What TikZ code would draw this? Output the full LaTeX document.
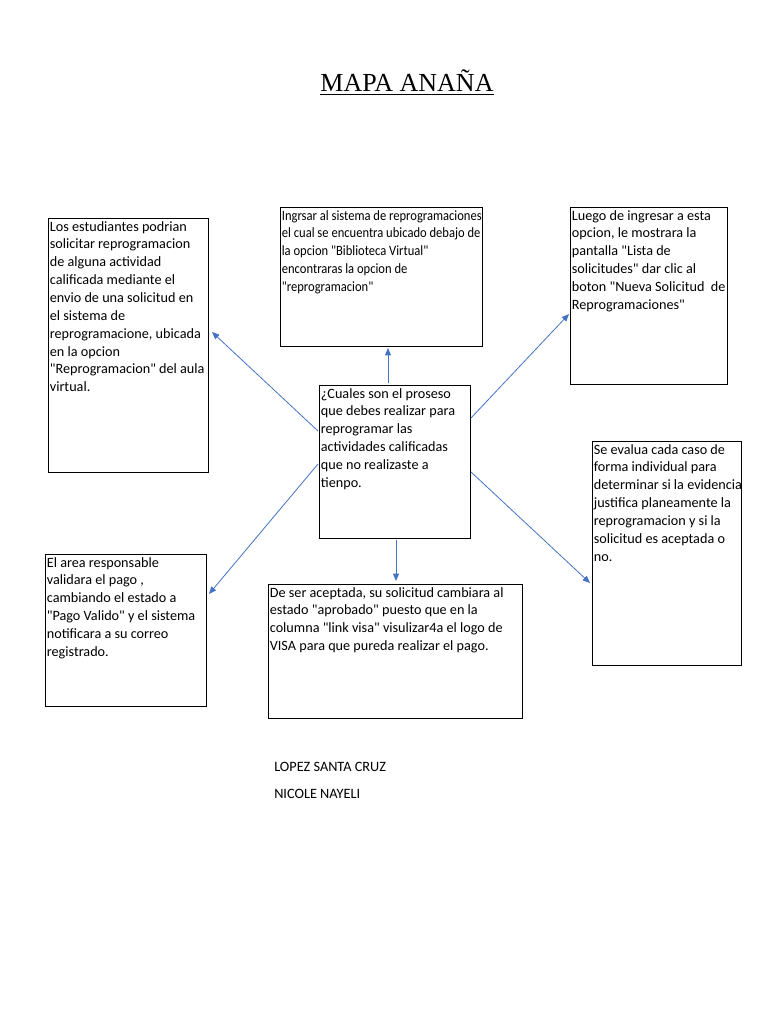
\documentclass[tikz,border=0pt]{standalone}
\usepackage{fontspec}
\usepackage{graphicx}
\newfontfamily\calib{Carlito}
\newfontfamily\tnr{Liberation Serif}
\usetikzlibrary{arrows.meta}
\definecolor{arrowblue}{HTML}{4472C4}
\newcommand\bxt[3]{\parbox[c][#2][t]{#1}{\begin{tabular}[t]{@{}l@{}}#3\end{tabular}}}
\newcommand\bxtn[3]{\parbox[c][#2][t]{#1}{\scalebox{0.885}[1]{\begin{tabular}[t]{@{}l@{}}#3\end{tabular}}}}
\tikzset{
  box/.style={draw, line width=0.8pt, anchor=north west, inner xsep=1pt, inner ysep=0pt,
    font=\calib\fontsize{10.65pt}{13.4pt}\selectfont},
  conn/.style={draw=arrowblue, line width=0.6pt, -{Triangle[length=5.5pt,width=4.5pt]}},
  plain/.style={font=\calib\fontsize{10.7pt}{13.4pt}\selectfont, anchor=base west, inner sep=0pt}
}
\begin{document}
\begin{tikzpicture}[x=0.75pt,y=-0.75pt]
\useasboundingbox (0,0) rectangle (768,1024);
\node[font=\tnr\fontsize{19.5pt}{22pt}\selectfont, anchor=base, inner sep=0pt] (title) at (407,92) {\underline{MAPA ANAÑA}};

\node[box] (l1) at (48,218) {\bxt{118pt}{190.5pt}{Los estudiantes podrian\\ solicitar reprogramacion\\ de alguna actividad\\ calificada mediante el\\ envio de una solicitud en\\ el sistema de\\ reprogramacione, ubicada\\ en la opcion\\ "Reprogramacion" del aula\\ virtual.}};

\node[box] (t) at (280,207) {\bxtn{149.5pt}{104.25pt}{Ingrsar al sistema de reprogramaciones\\ el cual se encuentra ubicado debajo de\\ la opcion "Biblioteca Virtual"\\ encontraras la opcion de\\ "reprogramacion"}};

\node[box] (r1) at (570,207) {\bxt{115.75pt}{132.75pt}{Luego de ingresar a esta\\ opcion, le mostrara la\\ pantalla "Lista de\\ solicitudes" dar clic al\\ boton "Nueva Solicitud \ de\\ Reprogramaciones"}};

\node[box] (c) at (319,385) {\bxt{111.25pt}{114.75pt}{¿Cuales son el proseso\\ que debes realizar para\\ reprogramar las\\ actividades calificadas\\ que no realizaste a\\ tienpo.}};

\node[box] (r2) at (592,441) {\bxt{109.75pt}{168pt}{Se evalua cada caso de\\ forma individual para\\ determinar si la evidencia\\ justifica planeamente la\\ reprogramacion y si la\\ solicitud es aceptada o\\ no.}};

\node[box] (l2) at (45,554) {\bxt{118.75pt}{114pt}{El area responsable\\ validara el pago ,\\ cambiando el estado a\\ "Pago Valido" y el sistema\\ notificara a su correo\\ registrado.}};

\node[box] (b) at (268,584) {\bxt{188.5pt}{100.5pt}{De ser aceptada, su solicitud cambiara al\\ estado "aprobado" puesto que en la\\ columna "link visa" visulizar4a el logo de\\ VISA para que pureda realizar el pago.}};

\node[plain] (n1) at (274,771) {LOPEZ SANTA CRUZ};
\node[plain] (n2) at (274,798) {NICOLE NAYELI};

% connector ends
\coordinate (cl1) at (318,431);
\coordinate (tl1) at (212,332);
\coordinate (ct) at (388,383);
\coordinate (tt) at (388,348);
\coordinate (cr1) at (471,418);
\coordinate (tr1) at (569,314);
\coordinate (cr2) at (471,472);
\coordinate (tr2) at (590,583);
\coordinate (cl2) at (318,464);
\coordinate (tl2) at (209,594);
\coordinate (cb) at (396,540);
\coordinate (tb) at (396,581);

\draw[conn] (cl1) -- (tl1);
\draw[conn] (ct) -- (tt);
\draw[conn] (cr1) -- (tr1);
\draw[conn] (cr2) -- (tr2);
\draw[conn] (cl2) -- (tl2);
\draw[conn] (cb) -- (tb);
\end{tikzpicture}
\end{document}
